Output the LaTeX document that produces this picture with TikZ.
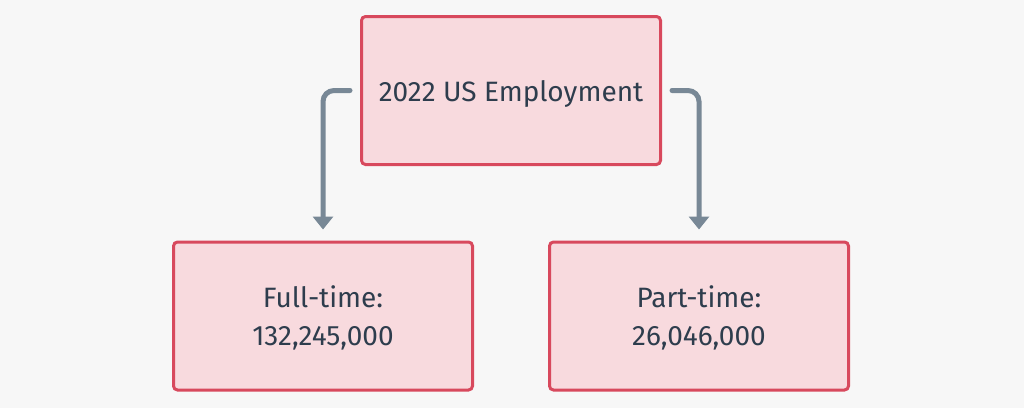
\documentclass[tikz,border=0pt]{standalone}
\usepackage{fontspec}
\setmainfont{Fira Sans}
\usetikzlibrary{positioning,arrows.meta}
\definecolor{bgcol}{HTML}{F7F7F7}
\definecolor{boxfill}{HTML}{F8DADE}
\definecolor{boxline}{HTML}{D8495D}
\definecolor{txtcol}{HTML}{2E3D4D}
\definecolor{arrcol}{HTML}{788896}
\tikzset{
  box/.style={draw=boxline, fill=boxfill, line width=3pt, rounded corners=4pt,
    minimum width=299pt, minimum height=148pt, align=center, text=txtcol,
    text depth=0pt, font=\fontsize{28}{38}\selectfont},
  link/.style={draw=arrcol, line width=5pt, rounded corners=11pt, line cap=round,
    -{Triangle[width=20pt,length=13pt]}}
}
\begin{document}
\begin{tikzpicture}[x=1pt, y=-1pt]
    \fill[bgcol] (0,0) rectangle (1024,408);
    \useasboundingbox (0,0) rectangle (1024,408);

    % Define nodes
    \node[box] (emp) at (511,90.5) {2022 US Employment};
    \node[box] (full) at (323,316) {Full-time:\\132,245,000};
    \node[box] (part) at (699,316) {Part-time:\\26,046,000};

    % Connect the nodes
    \draw[link] ([xshift=-10pt]emp.west) -| ([yshift=11pt]full.north);
    \draw[link] ([xshift=10pt]emp.east) -| ([yshift=11pt]part.north);

\end{tikzpicture}
\end{document}
